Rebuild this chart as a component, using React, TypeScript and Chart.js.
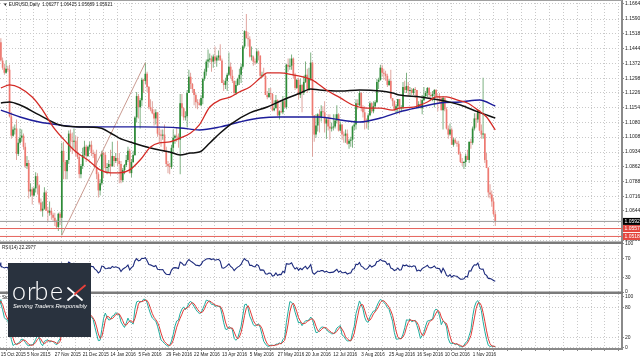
import React, { useEffect, useRef } from 'react';
import { Chart, registerables } from 'chart.js';

Chart.register(...registerables);

// Bar index 0 = 15 Oct 2015; 21 earlier bars (16 Sep - 14 Oct 2015) only feed RSI / Stochastic.
const FIRST_BAR = -21;

const open = [
  1.1255,1.1290,1.1435,1.1300,1.1195,1.1125,1.1190,1.1215,1.1195,1.1240,1.1250,1.1175,1.1195,1.1210,1.1190,1.1265,1.1275,1.1360,1.1355,1.1360,1.1380,
  1.1475,1.1385,1.1350,1.1325,1.1345,1.1340,1.1110,1.1015,1.1045,1.1050,1.0925,1.0980,
  1.1005,1.1015,1.0960,1.0865,1.0880,1.0740,1.0750,1.0720,1.0755,1.0815,1.0770,1.0685,1.0645,1.0655,1.0735,1.0645,1.0635,1.0645,1.0625,1.0610,1.0590,
  1.0565,1.0630,1.0610,1.0940,1.0885,1.0840,1.0895,1.1025,1.0990,1.0985,1.0990,1.0930,1.0910,1.0825,1.0865,1.0920,1.0960,1.0915,1.0960,1.0970,1.0930,1.0925,
  1.0860,1.0825,1.0745,1.0780,1.0930,1.0920,1.0855,1.0860,1.0875,1.0865,1.0915,1.0890,1.0905,1.0890,1.0875,1.0795,1.0845,1.0870,1.0895,1.0940,
  1.0830,1.0885,1.0920,1.1105,1.1210,1.1155,1.1190,1.1290,1.1285,1.1320,1.1255,1.1155,1.1145,1.1125,1.1100,1.1130,1.1025,1.1020,1.1015,1.1020,1.0935,
  1.0875,1.0865,1.0860,1.0955,1.1005,1.1015,1.1010,1.0995,1.1175,1.1150,1.1105,1.1110,1.1225,1.1305,1.1270,1.1245,1.1215,1.1180,1.1175,1.1165,1.1200,1.1295,1.1330,
  1.1380,1.1390,1.1395,1.1380,1.1405,1.1385,1.1400,1.1410,1.1385,1.1275,1.1265,1.1285,1.1315,1.1355,1.1310,1.1285,1.1225,1.1265,1.1295,1.1315,1.1355,
  1.1455,1.1530,1.1495,1.1490,1.1405,1.1405,1.1380,1.1375,1.1430,1.1410,1.1310,1.1315,1.1310,1.1215,1.1205,1.1225,1.1220,1.1140,1.1150,1.1190,1.1115,1.1135,
  1.1130,1.1185,1.1155,1.1365,1.1355,1.1360,1.1395,1.1315,1.1250,1.1290,1.1215,1.1265,1.1225,1.1280,1.1315,1.1245,1.1295,1.1375,1.1115,1.1020,1.1065,1.1120,
  1.1105,1.1135,1.1130,1.1075,1.1095,1.1060,1.1050,1.1055,1.1060,1.1090,1.1120,1.1040,1.1070,1.1020,1.1015,1.1025,1.0975,1.0990,1.0995,1.1060,1.1070,
  1.1175,1.1165,1.1225,1.1150,1.1130,1.1085,1.1080,1.1115,1.1175,1.1135,1.1160,1.1180,1.1280,1.1290,1.1350,1.1325,1.1320,1.1310,1.1265,1.1285,1.1200,1.1185,1.1145,
  1.1160,1.1195,1.1150,1.1155,1.1255,1.1240,1.1260,1.1235,1.1240,1.1225,1.1245,1.1240,1.1155,1.1170,1.1150,1.1190,1.1210,1.1225,1.1250,1.1215,1.1210,1.1220,
  1.1240,1.1210,1.1205,1.1200,1.1140,1.1200,1.1145,1.1050,1.1020,1.1045,1.0970,1.0995,1.0980,1.0975,1.0925,1.0885,1.0880,1.0885,1.0915,1.0895,1.0985,
  1.0980,1.1050,1.1100,1.1095,1.1140,1.1040,1.1020,1.1025,1.0895,1.0855,1.0735,1.0725,1.0690,1.06277,
];

const high = [
  1.1295,1.1440,1.1460,1.1330,1.1210,1.1195,1.1245,1.1235,1.1250,1.1270,1.1255,1.1205,1.1315,1.1235,1.1280,1.1290,1.1385,1.1390,1.1380,1.1390,1.1480,
  1.1495,1.1400,1.1370,1.1385,1.1360,1.1365,1.1130,1.1060,1.1070,1.1095,1.1000,1.1050,
  1.1045,1.1025,1.0980,1.0915,1.0895,1.0780,1.0760,1.0760,1.0835,1.0830,1.0775,1.0705,1.0690,1.0760,1.0745,1.0665,1.0690,1.0660,1.0635,1.0635,1.0600,
  1.0635,1.0640,1.0980,1.0985,1.0895,1.0895,1.1040,1.1045,1.1030,1.1050,1.1015,1.1010,1.0920,1.0875,1.0955,1.0990,1.0970,1.0965,1.0985,1.0990,1.0945,1.0935,
  1.0945,1.0835,1.0800,1.0940,1.0935,1.0935,1.0880,1.0895,1.0945,1.0985,1.0915,1.0930,1.0990,1.0930,1.0890,1.0855,1.0875,1.0920,1.0960,1.0950,
  1.0900,1.0940,1.1110,1.1230,1.1220,1.1200,1.1300,1.1295,1.1375,1.1330,1.1260,1.1195,1.1185,1.1145,1.1145,1.1130,1.1055,1.1045,1.1045,1.1070,1.0960,
  1.0890,1.0880,1.0970,1.1045,1.1020,1.1055,1.1025,1.1220,1.1220,1.1155,1.1135,1.1240,1.1340,1.1325,1.1275,1.1245,1.1225,1.1195,1.1195,1.1215,1.1300,1.1345,1.1390,
  1.1440,1.1420,1.1410,1.1415,1.1455,1.1410,1.1435,1.1465,1.1395,1.1290,1.1300,1.1325,1.1425,1.1375,1.1340,1.1285,1.1285,1.1300,1.1345,1.1370,1.1460,
  1.1535,1.1615,1.1525,1.1505,1.1455,1.1410,1.1395,1.1445,1.1435,1.1410,1.1330,1.1350,1.1320,1.1235,1.1250,1.1250,1.1225,1.1190,1.1215,1.1195,1.1140,1.1185,
  1.1210,1.1200,1.1370,1.1395,1.1395,1.1415,1.1400,1.1325,1.1295,1.1300,1.1295,1.1270,1.1310,1.1380,1.1345,1.1350,1.1425,1.1380,1.1115,1.1120,1.1125,1.1145,
  1.1165,1.1160,1.1185,1.1105,1.1120,1.1120,1.1080,1.1120,1.1120,1.1165,1.1125,1.1085,1.1070,1.1035,1.1045,1.1045,1.1000,1.1010,1.1065,1.1090,1.1195,
  1.1195,1.1235,1.1230,1.1165,1.1160,1.1100,1.1125,1.1185,1.1180,1.1185,1.1190,1.1295,1.1300,1.1365,1.1365,1.1345,1.1335,1.1320,1.1295,1.1340,1.1200,1.1190,1.1170,
  1.1195,1.1195,1.1165,1.1280,1.1285,1.1325,1.1280,1.1255,1.1250,1.1250,1.1255,1.1240,1.1185,1.1195,1.1215,1.1255,1.1235,1.1255,1.1255,1.1230,1.1235,1.1245,
  1.1245,1.1220,1.1225,1.1200,1.1210,1.1200,1.1155,1.1065,1.1075,1.1055,1.1005,1.1005,1.0990,1.0990,1.0935,1.0905,1.0890,1.0925,1.0945,1.0985,1.1000,
  1.1060,1.1125,1.1125,1.1145,1.1140,1.1070,1.1300,1.1025,1.0930,1.0860,1.0775,1.0745,1.0710,1.06425,
];

const low = [
  1.1245,1.1285,1.1290,1.1185,1.1085,1.1105,1.1160,1.1165,1.1185,1.1210,1.1160,1.1145,1.1160,1.1155,1.1165,1.1225,1.1240,1.1325,1.1330,1.1350,1.1375,
  1.1380,1.1340,1.1315,1.1320,1.1330,1.1105,1.1000,1.1010,1.1020,1.0895,1.0915,1.0975,
  1.0985,1.0945,1.0855,1.0850,1.0705,1.0715,1.0675,1.0715,1.0735,1.0725,1.0675,1.0640,1.0615,1.0650,1.0645,1.0590,1.0620,1.0600,1.0590,1.0570,1.0560,
  1.0545,1.0575,1.0524,1.0800,1.0800,1.0800,1.0875,1.0935,1.0925,1.0950,1.0915,1.0900,1.0805,1.0805,1.0850,1.0910,1.0885,1.0910,1.0945,1.0915,1.0905,1.0860,
  1.0800,1.0710,1.0720,1.0770,1.0805,1.0840,1.0825,1.0835,1.0815,1.0860,1.0860,1.0880,1.0865,1.0780,1.0780,1.0785,1.0825,1.0860,1.0885,1.0830,
  1.0810,1.0880,1.0915,1.1080,1.1100,1.1050,1.1160,1.1225,1.1270,1.1230,1.1145,1.1135,1.1120,1.1065,1.1070,1.1010,1.0985,1.0960,1.0995,1.0935,1.0860,
  1.0830,1.0825,1.0850,1.0925,1.0975,1.0985,1.0955,1.0825,1.1110,1.1090,1.1090,1.1055,1.1225,1.1245,1.1225,1.1165,1.1150,1.1145,1.1165,1.1160,1.1170,1.1285,1.1310,
  1.1350,1.1375,1.1330,1.1350,1.1370,1.1355,1.1385,1.1385,1.1275,1.1235,1.1245,1.1235,1.1310,1.1295,1.1275,1.1215,1.1215,1.1260,1.1265,1.1275,1.1345,
  1.1445,1.1495,1.1455,1.1400,1.1385,1.1360,1.1365,1.1370,1.1385,1.1300,1.1300,1.1305,1.1215,1.1195,1.1200,1.1195,1.1135,1.1135,1.1150,1.1110,1.1095,1.1125,
  1.1120,1.1150,1.1145,1.1330,1.1340,1.1340,1.1295,1.1240,1.1245,1.1195,1.1200,1.1130,1.1215,1.1275,1.1225,1.1235,1.1285,1.0912,1.0985,1.1005,1.1035,1.1030,
  1.1085,1.1110,1.1030,1.1000,1.1040,1.0995,1.1035,1.1040,1.1050,1.1075,1.1035,1.1035,1.0995,1.0980,1.0980,1.0970,1.0950,1.0960,1.0955,1.1040,1.1045,
  1.1145,1.1160,1.1135,1.1105,1.1045,1.1050,1.1045,1.1110,1.1125,1.1125,1.1150,1.1175,1.1245,1.1285,1.1305,1.1290,1.1285,1.1255,1.1260,1.1195,1.1160,1.1135,1.1125,
  1.1125,1.1120,1.1130,1.1145,1.1225,1.1225,1.1210,1.1205,1.1215,1.1215,1.1200,1.1150,1.1150,1.1150,1.1120,1.1185,1.1200,1.1205,1.1195,1.1185,1.1185,1.1155,
  1.1200,1.1135,1.1175,1.1140,1.1045,1.1135,1.1045,1.1000,1.1015,1.0970,1.0960,1.0975,1.0960,1.0920,1.0880,1.0865,1.0850,1.0860,1.0895,1.0880,1.0950,
  1.0970,1.1040,1.1055,1.1080,1.1035,1.1000,1.1000,1.0880,1.0855,1.0710,1.0705,1.0665,1.0620,1.05689,
];

const close = [
  1.1290,1.1435,1.1300,1.1195,1.1125,1.1190,1.1215,1.1195,1.1240,1.1250,1.1175,1.1195,1.1210,1.1190,1.1265,1.1275,1.1360,1.1355,1.1360,1.1380,1.1475,
  1.1385,1.1350,1.1325,1.1345,1.1340,1.1110,1.1015,1.1045,1.1050,1.0925,1.0980,1.1005,
  1.1015,1.0960,1.0865,1.0880,1.0740,1.0750,1.0720,1.0755,1.0815,1.0770,1.0685,1.0645,1.0655,1.0735,1.0645,1.0635,1.0645,1.0625,1.0610,1.0590,1.0565,
  1.0630,1.0610,1.0940,1.0885,1.0840,1.0895,1.1025,1.0990,1.0985,1.0990,1.0930,1.0910,1.0825,1.0865,1.0920,1.0960,1.0915,1.0960,1.0970,1.0930,1.0925,1.0860,
  1.0825,1.0745,1.0780,1.0930,1.0920,1.0855,1.0860,1.0875,1.0865,1.0915,1.0890,1.0905,1.0890,1.0875,1.0795,1.0845,1.0870,1.0895,1.0940,1.0830,
  1.0885,1.0920,1.1105,1.1210,1.1155,1.1190,1.1290,1.1285,1.1320,1.1255,1.1155,1.1145,1.1125,1.1100,1.1130,1.1025,1.1020,1.1015,1.1020,1.0935,1.0875,
  1.0865,1.0860,1.0955,1.1005,1.1015,1.1010,1.0995,1.1175,1.1150,1.1105,1.1110,1.1225,1.1305,1.1270,1.1245,1.1215,1.1180,1.1175,1.1165,1.1200,1.1295,1.1330,1.1380,
  1.1390,1.1395,1.1380,1.1405,1.1385,1.1400,1.1410,1.1385,1.1275,1.1265,1.1285,1.1315,1.1355,1.1310,1.1285,1.1225,1.1265,1.1295,1.1315,1.1355,1.1455,
  1.1530,1.1495,1.1490,1.1405,1.1405,1.1380,1.1375,1.1430,1.1410,1.1310,1.1315,1.1310,1.1215,1.1205,1.1225,1.1220,1.1140,1.1150,1.1190,1.1115,1.1135,1.1130,
  1.1185,1.1155,1.1365,1.1355,1.1360,1.1395,1.1315,1.1250,1.1290,1.1215,1.1265,1.1225,1.1280,1.1315,1.1245,1.1295,1.1375,1.1115,1.1020,1.1065,1.1120,1.1105,
  1.1135,1.1130,1.1075,1.1095,1.1060,1.1050,1.1055,1.1060,1.1090,1.1120,1.1040,1.1070,1.1020,1.1015,1.1025,1.0975,1.0990,1.0995,1.1060,1.1070,1.1175,
  1.1165,1.1225,1.1150,1.1130,1.1085,1.1080,1.1115,1.1175,1.1135,1.1160,1.1180,1.1280,1.1290,1.1350,1.1325,1.1320,1.1310,1.1265,1.1285,1.1200,1.1185,1.1145,1.1160,
  1.1195,1.1150,1.1155,1.1255,1.1240,1.1260,1.1235,1.1240,1.1225,1.1245,1.1240,1.1155,1.1170,1.1150,1.1190,1.1210,1.1225,1.1250,1.1215,1.1210,1.1220,1.1240,
  1.1210,1.1205,1.1200,1.1140,1.1200,1.1145,1.1050,1.1020,1.1045,1.0970,1.0995,1.0980,1.0975,1.0925,1.0885,1.0880,1.0885,1.0915,1.0895,1.0985,1.0980,
  1.1050,1.1100,1.1095,1.1140,1.1040,1.1020,1.1025,1.0895,1.0855,1.0735,1.0725,1.0690,1.0628,1.05921,
];

// Moving averages at sample bars
const redMaIdx = [0,5,18,24,30,38,44,50,57,63,68,74,80,86,91,97,103,109,114,120,126,132,137,143,149,153,160,168,176,179,187,195,202,210,218,225,229,237,245,250,256,262,268,274,279,284];
const redMa = [1.1250,1.1265,1.1206,1.1141,1.1058,1.0979,1.0929,1.0895,1.0846,1.0831,1.0831,1.0846,1.0895,1.0959,1.0979,1.0984,1.1003,1.1028,1.1068,1.1156,1.1191,1.1206,1.1230,1.1255,1.1299,1.1324,1.1324,1.1314,1.1299,1.1289,1.1240,1.1201,1.1166,1.1151,1.1151,1.1141,1.1151,1.1156,1.1181,1.1206,1.1206,1.1191,1.1176,1.1141,1.1107,1.1043];
const blackMaIdx = [0,5,11,22,34,45,57,63,68,76,86,97,103,109,114,120,126,133,143,153,162,172,178,183,195,206,218,225,229,241,252,264,274,284];
const blackMa = [1.1176,1.1181,1.1166,1.1117,1.1067,1.1058,1.1053,1.1028,1.1003,1.0979,1.0954,1.0934,1.0920,1.0929,1.0934,1.0979,1.1028,1.1077,1.1127,1.1156,1.1191,1.1225,1.1245,1.1240,1.1235,1.1240,1.1235,1.1225,1.1215,1.1206,1.1191,1.1166,1.1132,1.1102];
const blueMaIdx = [0,11,22,34,45,57,80,103,114,126,137,149,160,172,183,195,206,218,229,241,252,264,275,284];
const blueMa = [1.1141,1.1107,1.1082,1.1067,1.1058,1.1058,1.1058,1.1053,1.1043,1.1058,1.1082,1.1102,1.1107,1.1107,1.1107,1.1092,1.1082,1.1102,1.1132,1.1156,1.1176,1.1181,1.1191,1.1161];

const trendIdx = [35, 83];
const trendPrice = [1.0524, 1.1375];

const bidPrice = 1.05921;
const redLevels = [1.0557, 1.0518];

const priceTicks = [1.1664,1.1590,1.1518,1.1444,1.1372,1.1298,1.1226,1.1154,1.1080,1.1008,1.0934,1.0862,1.0788,1.0716,1.0644,1.0500];
const rsiTicks = [100, 70, 30, 0];
const stochTicks = [100, 80, 20, 0];

const xLabelIdx = [0,15,31,47,63,79,95,111,127,143,159,175,191,207,223,239,255,271];
const xLabels = ['15 Oct 2015','5 Nov 2015','27 Nov 2015','21 Dec 2015','14 Jan 2016','5 Feb 2016','29 Feb 2016','22 Mar 2016','13 Apr 2016','5 May 2016','27 May 2016','20 Jun 2016','12 Jul 2016','3 Aug 2016','25 Aug 2016','16 Sep 2016','10 Oct 2016','1 Nov 2016'];

const titleText = '\u25BC EURUSD,Daily  1.06277 1.06425 1.05689 1.05921';
const rsiText = 'RSI(14) 22.2977';
const stochText = 'Stoch(14,3,3) 3.6321 4.1186';

const X_MIN = -0.5;
const X_MAX = 356.8;

const FONT = "'Liberation Sans Narrow', 'Liberation Sans', 'DejaVu Sans', sans-serif";

function calcRsi(c: number[], n: number) {
  const out: (number | null)[] = c.map(() => null);
  let ag = 0, al = 0;
  for (let i = 1; i <= n; i++) {
    const d = c[i] - c[i - 1];
    if (d > 0) ag += d; else al -= d;
  }
  ag /= n; al /= n;
  out[n] = al === 0 ? 100 : 100 - 100 / (1 + ag / al);
  for (let i = n + 1; i < c.length; i++) {
    const d = c[i] - c[i - 1];
    ag = (ag * (n - 1) + Math.max(d, 0)) / n;
    al = (al * (n - 1) + Math.max(-d, 0)) / n;
    out[i] = al === 0 ? 100 : 100 - 100 / (1 + ag / al);
  }
  return out;
}

function calcStoch(h: number[], l: number[], c: number[], kp: number, slow: number, dp: number) {
  const len = c.length;
  const lo: number[] = [], hi: number[] = [];
  for (let i = kp - 1; i < len; i++) {
    let mn = Infinity, mx = -Infinity;
    for (let j = i - kp + 1; j <= i; j++) { mn = Math.min(mn, l[j]); mx = Math.max(mx, h[j]); }
    lo[i] = mn; hi[i] = mx;
  }
  const K: (number | null)[] = c.map(() => null);
  for (let i = kp - 1 + slow - 1; i < len; i++) {
    let num = 0, den = 0;
    for (let j = i - slow + 1; j <= i; j++) { num += c[j] - lo[j]; den += hi[j] - lo[j]; }
    K[i] = den === 0 ? 100 : (num / den) * 100;
  }
  const D: (number | null)[] = c.map(() => null);
  for (let i = kp - 1 + slow - 1 + dp - 1; i < len; i++) {
    let s = 0;
    for (let j = i - dp + 1; j <= i; j++) s += K[j] as number;
    D[i] = s / dp;
  }
  return { K, D };
}

const toPoints = (vals: (number | null)[]) =>
  vals.map((v, i) => (v === null ? null : { x: FIRST_BAR + i, y: v })).filter(Boolean);

const overlayPlugin = {
  id: 'mt4Overlay',
  afterDraw(chart: any) {
    const { ctx, chartArea: ca, scales } = chart;
    const yM = scales.y, yR = scales.yRsi, yS = scales.yStoch;
    ctx.save();
    // pane separators and frame
    ctx.fillStyle = '#7b7b7b';
    ctx.fillRect(ca.left, yR.top - 1.5, ca.right - ca.left + 1, 2.5);
    ctx.fillRect(ca.left, yS.top - 1.5, ca.right - ca.left + 1, 2.5);
    ctx.fillStyle = '#a0a0a0';
    ctx.fillRect(ca.left, ca.top, ca.right - ca.left, 1);

    // price tags on the axis
    const tag = (v: number, bg: string) => {
      const y = yM.getPixelForValue(v);
      ctx.fillStyle = bg;
      ctx.fillRect(ca.right + 1, y - 3.5, 17, 7);
      ctx.fillStyle = '#ffffff';
      ctx.font = `5px ${FONT}`;
      ctx.textBaseline = 'middle';
      ctx.textAlign = 'left';
      ctx.fillText(v.toFixed(5), ca.right + 2.5, y + 0.3);
    };
    tag(bidPrice, '#000000');
    redLevels.forEach((v) => tag(v, '#e5463e'));

    // titles
    ctx.fillStyle = '#1a1a1a';
    ctx.font = `4.6px ${FONT}`;
    ctx.textBaseline = 'middle';
    ctx.textAlign = 'left';
    ctx.fillText(titleText, 3, 4.5);
    ctx.fillText(rsiText, 2, yR.top + 4.5);
    ctx.fillText(stochText, 2, yS.top + 4.5);

    // logo box
    ctx.fillStyle = '#29323e';
    ctx.fillRect(8, 263, 83, 74);
    ctx.fillStyle = '#ffffff';
    ctx.font = "300 25px Lato, 'Open Sans', sans-serif";
    ctx.textBaseline = 'alphabetic';
    ctx.fillText('o', 12, 300);
    ctx.fillText('r', 27, 300);
    ctx.fillText('b', 34.5, 300);
    ctx.fillText('e', 50, 300);
    ctx.strokeStyle = '#ffffff';
    ctx.lineWidth = 1.8;
    ctx.lineCap = 'round';
    ctx.beginPath(); ctx.moveTo(68, 288); ctx.lineTo(82, 300); ctx.stroke();
    ctx.beginPath(); ctx.moveTo(68, 300); ctx.lineTo(75, 294); ctx.stroke();
    ctx.strokeStyle = '#e8403a';
    ctx.beginPath(); ctx.moveTo(75, 294); ctx.lineTo(85, 285.5); ctx.stroke();
    ctx.fillStyle = '#ffffff';
    ctx.font = "italic 5.8px 'Liberation Sans', sans-serif";
    ctx.fillText('Serving Traders Responsibly', 13, 308);
    ctx.restore();
  },
};

export default function App() {
  const ref = useRef<HTMLCanvasElement>(null);

  useEffect(() => {
    const idx = close.map((_, i) => i);
    const bull = idx.map((i) => close[i] >= open[i]);
    const wickData = idx.map((i) => ({ x: FIRST_BAR + i, y: [low[i], high[i]] }));
    const bodyData = idx.map((i) => ({ x: FIRST_BAR + i, y: [open[i], close[i]] }));
    const wickColors = bull.map((b) => (b ? '#6fa874' : '#dc9b94'));
    const bodyColors = bull.map((b) => (b ? '#2e8b38' : '#ee7a72'));

    const rsi = calcRsi(close, 14);
    const st = calcStoch(high, low, close, 14, 3, 3);

    const ma = (ix: number[], v: number[]) => ix.map((x, k) => ({ x, y: v[k] }));
    const level = (v: number) => [{ x: X_MIN, y: v }, { x: X_MAX, y: v }];

    const xGrid: number[] = [0];
    for (let v = 7; v <= X_MAX; v += 8) xGrid.push(v);
    const xLabelMap = new Map(xLabelIdx.map((v, k) => [v, xLabels[k]]));

    const lineBase = { type: 'line', pointRadius: 0, fill: false, xAxisID: 'x' };
    const gridStyle = { color: '#c9c9c9', lineWidth: 1, drawTicks: true, tickLength: 2, tickColor: '#888888', tickWidth: 1 };
    const borderStyle = { display: true, color: '#8a8a8a', width: 2, dash: [1, 2] };
    const tickFont = { family: FONT, size: 5 };
    const yAxis = (weight: number, min: number, max: number, ticks: number[], fmt: (v: number) => string) => ({
      type: 'linear',
      position: 'right',
      stack: 'panes',
      stackWeight: weight,
      min,
      max,
      afterBuildTicks: (s: any) => { s.ticks = ticks.map((v) => ({ value: v })); },
      afterFit: (s: any) => { s.width = 18; s.paddingTop = 0; s.paddingBottom = 0; },
      ticks: { autoSkip: false, padding: 1, font: tickFont, color: '#1a1a1a', callback: (v: any) => fmt(Number(v)) },
      grid: gridStyle,
      border: borderStyle,
    });

    const chart = new Chart(ref.current as HTMLCanvasElement, {
      type: 'bar',
      data: {
        datasets: [
          { type: 'bar', data: wickData, backgroundColor: wickColors, barThickness: 0.9, grouped: false, inflateAmount: 0, borderWidth: 0, xAxisID: 'x', yAxisID: 'y', order: 20 },
          { type: 'bar', data: bodyData, backgroundColor: bodyColors, barThickness: 1.7, minBarLength: 1, grouped: false, inflateAmount: 0, borderWidth: 0, xAxisID: 'x', yAxisID: 'y', order: 19 },
          { ...lineBase, data: level(bidPrice), borderColor: '#9a9a9a', borderWidth: 1, yAxisID: 'y', order: 10 },
          ...redLevels.map((v) => ({ ...lineBase, data: level(v), borderColor: '#e5625b', borderWidth: 1, yAxisID: 'y', order: 10 })),
          { ...lineBase, data: trendIdx.map((x, k) => ({ x, y: trendPrice[k] })), borderColor: '#c99a90', borderWidth: 1, yAxisID: 'y', order: 9 },
          { ...lineBase, data: ma(blueMaIdx, blueMa), borderColor: '#1d1d9a', borderWidth: 1.4, cubicInterpolationMode: 'monotone', yAxisID: 'y', order: 3 },
          { ...lineBase, data: ma(blackMaIdx, blackMa), borderColor: '#111111', borderWidth: 1.5, cubicInterpolationMode: 'monotone', yAxisID: 'y', order: 2 },
          { ...lineBase, data: ma(redMaIdx, redMa), borderColor: '#d42b26', borderWidth: 1.3, cubicInterpolationMode: 'monotone', yAxisID: 'y', order: 1 },
          { ...lineBase, data: toPoints(rsi), borderColor: '#1c2a7c', borderWidth: 1.1, yAxisID: 'yRsi', order: 1 },
          { ...lineBase, data: toPoints(st.K), borderColor: '#21ad9f', borderWidth: 1, yAxisID: 'yStoch', order: 2 },
          { ...lineBase, data: toPoints(st.D), borderColor: '#e03a36', borderWidth: 1, yAxisID: 'yStoch', order: 1 },
        ] as any,
      },
      options: {
        animation: false,
        responsive: false,
        maintainAspectRatio: false,
        events: [],
        layout: { padding: 0 },
        plugins: { legend: { display: false }, tooltip: { enabled: false } },
        scales: {
          x: {
            type: 'linear',
            position: 'bottom',
            min: X_MIN,
            max: X_MAX,
            offset: false,
            afterBuildTicks: (s: any) => { s.ticks = xGrid.map((v) => ({ value: v })); },
            afterFit: (s: any) => { s.height = 11; s.paddingLeft = 0; s.paddingRight = 0; },
            ticks: {
              autoSkip: false, maxRotation: 0, minRotation: 0, align: 'start', padding: 1,
              font: { family: FONT, size: 4.6 }, color: '#1a1a1a',
              callback: (v: any) => xLabelMap.get(Number(v)) ?? '',
            },
            grid: gridStyle,
            border: borderStyle,
          },
          y: yAxis(243, 1.04857, 1.16837, priceTicks, (v) => v.toFixed(5)),
          yRsi: yAxis(50, -2, 102, rsiTicks, (v) => String(v)),
          yStoch: yAxis(56, -2, 107.8, stochTicks, (v) => String(v)),
        } as any,
      },
      plugins: [overlayPlugin],
    } as any);
    return () => chart.destroy();
  }, []);

  return (
    <div style={{ position: 'fixed', left: 0, top: 0, width: 640, height: 360, background: '#ffffff' }}>
      <canvas ref={ref} width={640} height={360} style={{ display: 'block' }} />
    </div>
  );
}
